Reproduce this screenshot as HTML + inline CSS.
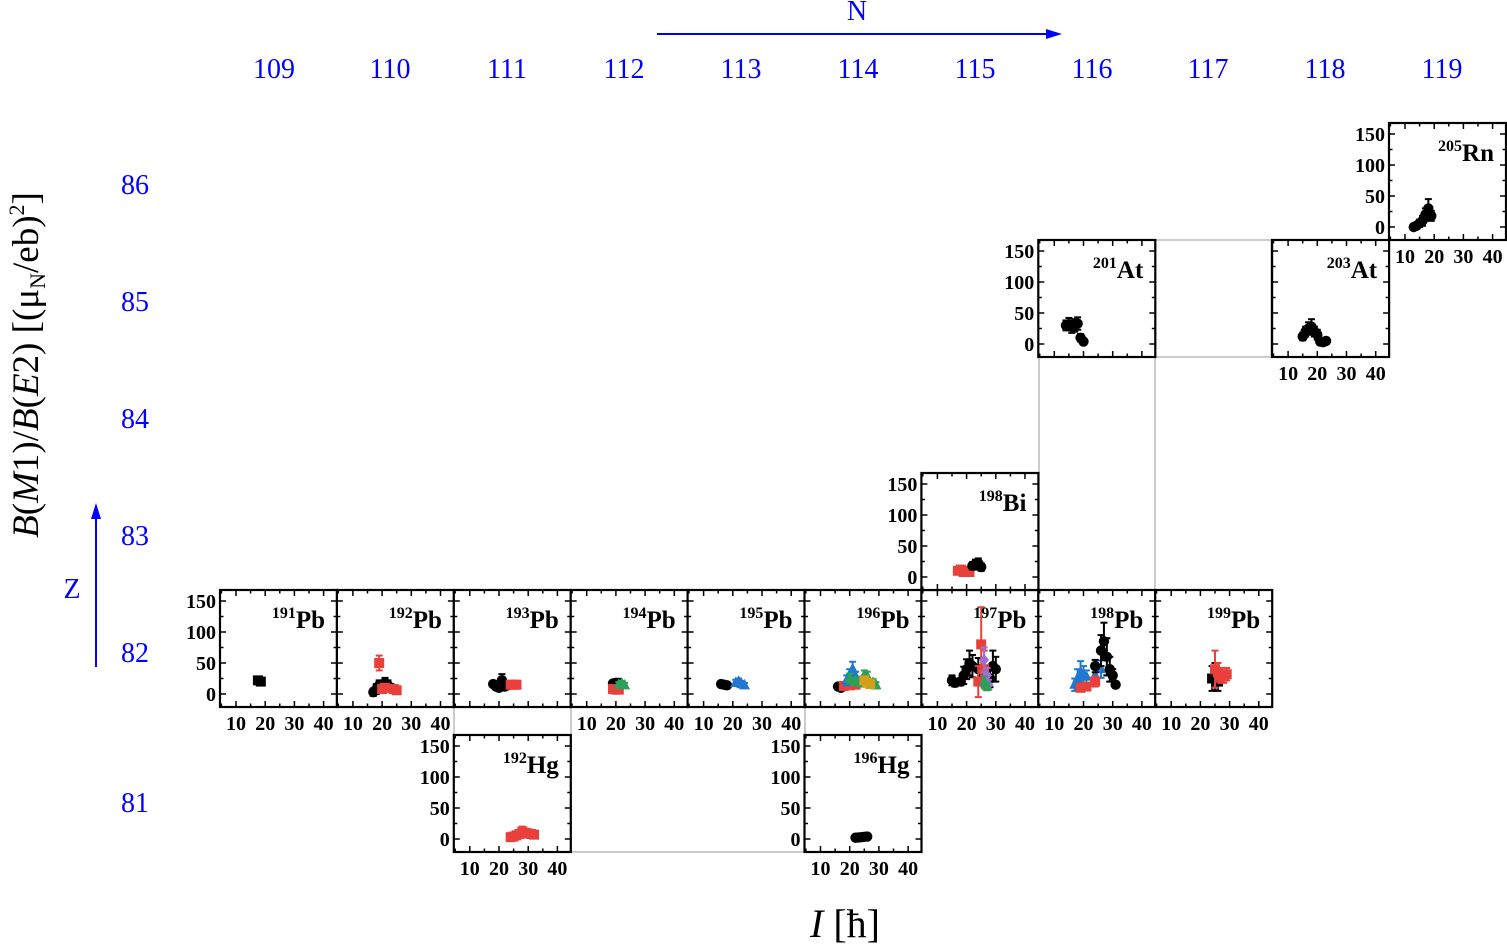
<!DOCTYPE html>
<html><head><meta charset="utf-8"><style>
html,body{margin:0;padding:0;background:#fff}
svg{display:block}
text{font-family:"Liberation Serif",serif}
</style></head><body>
<svg id="s" width="1507" height="944" xmlns="http://www.w3.org/2000/svg">
<g stroke="#bbb" stroke-width="1.5" fill="none">
<rect x="1155" y="240" width="116" height="117"/>
<rect x="1039" y="357" width="116" height="233"/>
<rect x="571" y="707" width="234" height="145"/>
<line x1="454" y1="707" x2="454" y2="735"/>
</g>
<g fill="#0000ff" font-size="28" text-anchor="middle">
<text x="857" y="20">N</text>
<text x="72" y="598">Z</text>
<text x="274" y="78">109</text><text x="390" y="78">110</text><text x="507" y="78">111</text><text x="624" y="78">112</text><text x="741" y="78">113</text><text x="858" y="78">114</text><text x="975" y="78">115</text><text x="1092" y="78">116</text><text x="1208" y="78">117</text><text x="1325" y="78">118</text><text x="1442" y="78">119</text>
<text x="135" y="194">86</text><text x="135" y="311">85</text><text x="135" y="428">84</text><text x="135" y="545">83</text><text x="135" y="662">82</text><text x="135" y="812">81</text>
</g>
<g stroke="#0000ff" stroke-width="2" fill="#0000ff">
<line x1="657" y1="34" x2="1050" y2="34"/><polygon points="1062,34 1046,29 1046,39" stroke="none"/>
<line x1="96" y1="667" x2="96" y2="515"/><polygon points="96,503 91,519 101,519" stroke="none"/>
</g>
<text x="845" y="937" font-size="40" text-anchor="middle" font-style="italic">I <tspan font-style="normal">[</tspan><tspan font-style="normal">ħ</tspan><tspan font-style="normal">]</tspan></text>
<text transform="translate(38,365) rotate(-90)" font-size="37" text-anchor="middle"><tspan font-style="italic">B</tspan>(<tspan font-style="italic">M</tspan>1)/<tspan font-style="italic">B</tspan>(<tspan font-style="italic">E</tspan>2) [(μ<tspan font-size="22" dy="7">N</tspan><tspan dy="-7">/eb)</tspan><tspan font-size="22" dy="-14">2</tspan><tspan dy="14">]</tspan></text>
<g id="p"></g>
</svg>
<script>
const NS="http://www.w3.org/2000/svg",G=document.getElementById('p');
function el(t,a,par){const e=document.createElementNS(NS,t);for(const k in a)e.setAttribute(k,a[k]);(par||G).appendChild(e);return e;}
function colX(n){return 220+(n-109)*116.9;}
const rowY={86:123,85:240,83:473,82:590,81:735};
const W=117,H=117;
const R='#e8413c',K='#000',B='#1f77d0',Gr='#2ca05a',O='#d4a017',P='#a070d0';
const panels=[
 {n:109,z:82,A:191,s:'Pb',yl:1,xl:1,d:[[K,'s',[[17.5,22,3],[18.5,20,3]]]]},
 {n:110,z:82,A:192,s:'Pb',xl:1,d:[[K,'c',[[17,3,6],[18,8,8],[19,14,8],[21,18,8],[22,14,8],[23,10,6]]],[R,'s',[[19,50,12],[20,8,5],[21,10,5],[24,8,6],[25,6,5]]]]},
 {n:111,z:82,A:193,s:'Pb',d:[[K,'c',[[18,16,4],[19,12,4],[20,10,4],[21,22,10],[22,12,4],[23,14,4]]],[R,'s',[[24,15,3],[25,15,3],[26,15,3]]]]},
 {n:112,z:82,A:194,s:'Pb',xl:1,d:[[K,'c',[[19,17,3],[20,18,3],[21,18,3]]],[R,'s',[[19,8,3],[20,7,3],[21,7,3]]],[Gr,'t',[[21,15,4],[22,17,4],[23,14,4]]]]},
 {n:113,z:82,A:195,s:'Pb',xl:1,d:[[K,'c',[[16,16,3],[17,15,3],[18,14,3]]],[B,'t',[[21,18,5],[22,20,5],[23,16,5],[24,14,4]]]]},
 {n:114,z:82,A:196,s:'Pb',d:[[K,'c',[[16,12,3],[17,10,3]]],[R,'s',[[18,13,3],[20,14,3],[22,15,3]]],[B,'t',[[19,22,8],[20,30,10],[21,40,12],[22,28,8],[24,22,6]]],[Gr,'t',[[20,25,8],[22,20,6],[24,18,6],[25,30,8],[26,28,8],[28,18,6],[29,14,5]]],[O,'s',[[25,22,5],[26,18,5],[27,16,5]]]]},
 {n:115,z:82,A:197,s:'Pb',xl:1,d:[[K,'c',[[15,22,8],[16,18,6],[18,20,6],[19,30,14],[20,40,16],[21,50,20],[22,45,18],[24,40,18],[26,30,12],[28,25,14],[29,45,25],[30,40,20]]],[R,'s',[[24,20,25],[25,80,60],[26,40,30]]],[P,'d',[[26,55,20],[27,30,12],[27.5,15,8]]],[Gr,'t',[[26,20,8],[27,12,6]]]]},
 {n:116,z:82,A:198,s:'Pb',xl:1,d:[[B,'t',[[17,15,10],[18,25,15],[19,35,18],[20,30,15],[21,28,10],[24,30,12],[26,40,14]]],[R,'s',[[19,10,4],[21,12,5],[24,20,8]]],[K,'c',[[24,45,10],[26,70,25],[27,85,30],[28,60,30],[29,40,20],[30,30,10],[31,15,5]]]]},
 {n:117,z:82,A:199,s:'Pb',xl:1,d:[[K,'s',[[24,25,20],[25,28,22],[26,20,15]]],[R,'s',[[25,40,30],[26,35,15],[27,30,12],[28,28,10],[29,32,10]]]]},
 {n:115,z:83,A:198,s:'Bi',yl:1,d:[[R,'s',[[17,10,5],[18,12,5],[19,8,5],[20,10,5],[21,8,4]]],[K,'c',[[22,18,6],[23,20,8],[24,22,8],[25,16,6]]]]},
 {n:116,z:85,A:201,s:'At',yl:1,d:[[K,'c',[[14,30,8],[15,32,10],[16,28,10],[17,30,10],[18,33,10],[19,10,6],[20,4,4]]]]},
 {n:118,z:85,A:203,s:'At',xl:1,d:[[K,'c',[[15,12,6],[16,20,8],[17,25,10],[18,28,12],[19,20,8],[20,15,8],[21,4,4],[22,3,4],[23,5,5]]]]},
 {n:119,z:86,A:205,s:'Rn',yl:1,xl:1,d:[[K,'c',[[13,0,3],[14,2,4],[15,6,6],[16,10,8],[17,20,10],[18,30,15],[19,18,8]]]]},
 {n:111,z:81,A:192,s:'Hg',yl:1,xl:1,d:[[R,'s',[[24,3,3],[25,4,4],[26,6,5],[27,8,6],[28,12,8],[29,10,6],[30,9,5],[31,8,5],[32,7,4]]]]},
 {n:114,z:81,A:196,s:'Hg',yl:1,xl:1,d:[[K,'c',[[22,2,2],[23,2.5,2],[24,3,2],[25,3.5,2],[26,4,2]]]]},
];
for(const p of panels){
 const L=colX(p.n),T=rowY[p.z];
 const X=v=>L+16+(v-10)*2.92, Y=v=>T+H-13-v*0.62;
 const g=el('g',{});
 el('rect',{x:L,y:T,width:W,height:H,fill:'#fff',stroke:'none'},g);
 for(const [c,m,pts] of p.d){
  for(const [i,v,e] of pts){
   const x=X(i),y=Y(v);
   if(e>3){el('line',{x1:x,y1:Y(v-e),x2:x,y2:Y(v+e),stroke:c,'stroke-width':2},g);
    el('line',{x1:x-3.5,y1:Y(v+e),x2:x+3.5,y2:Y(v+e),stroke:c,'stroke-width':2},g);
    el('line',{x1:x-3.5,y1:Y(v-e),x2:x+3.5,y2:Y(v-e),stroke:c,'stroke-width':2},g);}
   if(m=='c')el('circle',{cx:x,cy:y,r:5.2,fill:c},g);
   else if(m=='s')el('rect',{x:x-5,y:y-5,width:10,height:10,fill:c},g);
   else if(m=='t')el('polygon',{points:`${x},${y-6.5} ${x-5.5},${y+4} ${x+5.5},${y+4}`,fill:c},g);
   else el('polygon',{points:`${x},${y-6} ${x-5},${y} ${x},${y+6} ${x+5},${y}`,fill:c},g);
  }
 }
 for(let v=5;v<=45;v+=5){const x=X(v);if(x<=L||x>=L+W)continue;const len=v%10==0?6:3.5;
  el('line',{x1:x,y1:T+H,x2:x,y2:T+H-len,stroke:'#000','stroke-width':1.5},g);
  el('line',{x1:x,y1:T,x2:x,y2:T+len,stroke:'#000','stroke-width':1.5},g);}
 for(let v=-25;v<=175;v+=25){const y=Y(v);if(y<=T||y>=T+H)continue;const len=v%50==0?6:3.5;
  el('line',{x1:L,y1:y,x2:L+len,y2:y,stroke:'#000','stroke-width':1.5},g);
  el('line',{x1:L+W,y1:y,x2:L+W-len,y2:y,stroke:'#000','stroke-width':1.5},g);}
 el('rect',{x:L,y:T,width:W,height:H,fill:'none',stroke:'#000','stroke-width':2.2},g);
 const t=el('text',{x:L+105,y:T+38,'text-anchor':'end','font-weight':'bold','font-size':25},g);
 const s1=el('tspan',{'font-size':16,dy:-10},t);s1.textContent=p.A;
 const s2=el('tspan',{dy:10},t);s2.textContent=p.s;
 if(p.yl)for(const v of [0,50,100,150]){const tt=el('text',{x:L-4,y:Y(v)+7,'text-anchor':'end','font-weight':'bold','font-size':20},g);tt.textContent=v;}
 if(p.xl)for(const v of [10,20,30,40]){const tt=el('text',{x:X(v),y:T+H+23,'text-anchor':'middle','font-weight':'bold','font-size':20},g);tt.textContent=v;}
}
</script>
</body></html>
